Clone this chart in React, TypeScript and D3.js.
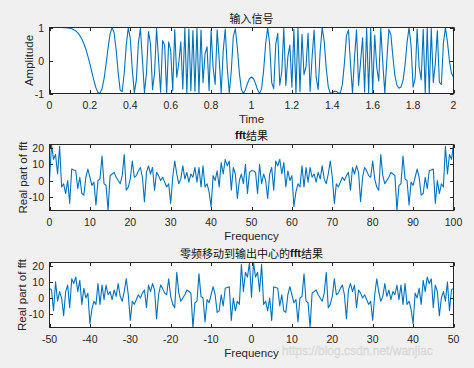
import React from "react";
import * as d3 from "d3";

// Input signal samples (t = 0 : 0.01 : 2)
const timeSignal: number[] = [
  1, 1, 1, 1, 1, 1, 0.999, 0.997, 0.994, 0.988,
  0.978, 0.961, 0.935, 0.896, 0.839, 0.76, 0.654, 0.516, 0.342, 0.134,
  -0.105, -0.36, -0.613, -0.829, -0.97, -0.991, -0.858, -0.556, -0.115, 0.385,
  0.809, 0.999, 0.837, 0.322, -0.369, -0.903, -0.94, -0.377, 0.477, 0.99,
  0.669, -0.293, -0.982, -0.587, 0.533, 0.972, 0.034, -0.97, -0.389, 0.881,
  0.5, -0.881, -0.386, 0.972, 0.008, -0.959, 0.607, 0.464, -1.0, 0.567,
  0.309, -0.915, 0.939, -0.508, -0.074, 0.566, -0.866, 0.987, -0.993, 0.952,
  -0.914, 0.906, -0.933, 0.979, -0.999, 0.924, -0.673, 0.201, 0.417, -0.917,
  0.914, -0.22, -0.724, 0.931, 0.043, -0.983, 0.298, 0.951, -0.213, -1.0,
  -0.309, 0.733, 0.963, 0.379, -0.391, -0.879, -0.998, -0.884, -0.698, -0.553,
  -0.5, -0.553, -0.701, -0.889, -1.0, -0.853, -0.306, 0.508, 0.998, 0.495,
  -0.669, -0.852, 0.486, 0.821, -0.749, -0.334, 0.982, -0.759, 0.111, 0.471,
  -0.809, 0.947, -0.984, 0.984, -0.943, 0.793, -0.431, -0.184, 0.827, -0.938,
  0.105, 0.921, -0.506, -0.88, 0.288, 0.997, 0.58, -0.238, -0.8, -0.992,
  -0.978, -0.931, -0.937, -0.986, -0.979, -0.725, -0.076, 0.746, 0.93, -0.094,
  -1.0, 0.094, 0.929, -0.753, -0.049, 0.688, -0.956, 1.0, -0.99, 0.998,
  -0.978, 0.773, -0.202, -0.629, 0.981, -0.078, -0.989, 0.008, 0.942, 0.785,
  0.105, -0.461, -0.75, -0.842, -0.806, -0.609, -0.152, 0.542, 0.999, 0.437,
  -0.809, -0.546, 0.955, -0.205, -0.588, 0.943, -1.0, 0.986, -0.998, 0.965,
  -0.669, -0.078, 0.904, -0.66, -0.727, 0.522, 0.995, 0.566, -0.023, -0.388,
  -0.5,
];
const timeStep = 0.01;

// Real part of the FFT (frequency 0 : 0.5 : 100)
const fftReal: number[] = [
  0.4, 22.1, 13, 16, 4, 21, -4, -2, -8, 0,
  -14, 7, 6.5, 6, -5, 2, -8, -9, 2, 7,
  2, -3, -1, -15, 0, 1, 15, -2, -3, -18.4,
  3, 4, 5, 2, 0, -2, 3, 16, -6, -4,
  1, 12, 2, 3, 6, 8, 2, -13, 5, 9,
  4, 8, -6, 5, 3, 0, 2, -1, -4, -2,
  -14, 2, 12, 4, -2, 1, 9, 1, 5, -1,
  4, 2, 8, -1, 8, -4, 9, -4, -2, -7,
  -16, 3, 0, 6, -4, 11, 4, 13, 9, 12,
  -6, 8, 4, -11, 0, 4, -2, 10, -8, 5,
  6,
  6, 5, -8, 10, -2, 4, 0, -11, 4, 8,
  -6, 12, 9, 13, 4, 11, -4, 6, 0, 3,
  -16, -7, -2, -4, 9, -4, 8, -1, 8, 2,
  4, -1, 5, 1, 9, 1, -2, 4, 12, 2,
  -14, -2, -4, -1, 2, 0, 3, 5, -6, 8,
  4, 9, 5, -13, 2, 8, 6, 3, 2, 12,
  1, -4, -6, 16, 3, -2, 0, 2, 5, 4,
  3, -18.4, -3, -2, 15, 1, 0, -15, -1, -3,
  2, 7, 2, -9, -8, 2, -5, 6, 6.5, 7,
  -14, 0, -8, -2, -4, 21, 4, 16, 13, 22.1,
];
const freqStep = 0.5;
const shiftStart = -50;

const timeTicks = [0, 0.2, 0.4, 0.6, 0.8, 1, 1.2, 1.4, 1.6, 1.8, 2];
const ampTicks = [-1, 0, 1];
const freqTicks = [0, 10, 20, 30, 40, 50, 60, 70, 80, 90, 100];
const shiftTicks = [-50, -40, -30, -20, -10, 0, 10, 20, 30, 40, 50];
const fftTicks = [-10, 0, 10, 20];

const W = 474;
const H = 368;
const latin = "'Liberation Sans', Arial, Helvetica, sans-serif";
const cjk = "'Noto Sans CJK SC', 'Noto Sans CJK JP', sans-serif";
const axisColor = "#262626";
const lineColor = "#0072BD";

type Seg = { text: string; bold?: boolean };

type PanelProps = {
  id: string;
  box: { l: number; r: number; t: number; b: number };
  xDomain: [number, number];
  yDomain: [number, number];
  xs: number[];
  ys: number[];
  xTicks: number[];
  yTicks: number[];
  title: Seg[];
  xLabel: string;
  yLabel: string;
  yLabelX: number;
};

function Panel(p: PanelProps) {
  const { box } = p;
  const x = d3.scaleLinear().domain(p.xDomain).range([box.l, box.r]);
  const y = d3.scaleLinear().domain(p.yDomain).range([box.b, box.t]);
  const line = d3
    .line<number>()
    .x((_, i) => x(p.xs[i]))
    .y((d) => y(d));
  const tl = 3.5;
  const cx = (box.l + box.r) / 2;
  const cy = (box.t + box.b) / 2;
  const fmt = (v: number) => String(+v.toFixed(2));
  return (
    <g>
      <defs>
        <clipPath id={p.id}>
          <rect x={box.l} y={box.t} width={box.r - box.l} height={box.b - box.t} />
        </clipPath>
      </defs>
      <rect x={box.l} y={box.t} width={box.r - box.l} height={box.b - box.t} fill="#ffffff" />
      <path
        d={line(p.ys) || ""}
        fill="none"
        stroke={lineColor}
        strokeWidth={1.1}
        strokeLinejoin="round"
        clipPath={`url(#${p.id})`}
      />
      {p.xTicks.map((v) => {
        const px = Math.round(x(v)) + 0.5;
        return (
          <g key={"x" + v}>
            <line x1={px} x2={px} y1={box.b} y2={box.b - tl} stroke={axisColor} strokeWidth={1} />
            <line x1={px} x2={px} y1={box.t} y2={box.t + tl} stroke={axisColor} strokeWidth={1} />
            <text
              x={x(v)}
              y={box.b + 11}
              textAnchor="middle"
              dominantBaseline="central"
              fontFamily={latin}
              fontSize={10.5}
              fill={axisColor}
            >
              {fmt(v)}
            </text>
          </g>
        );
      })}
      {p.yTicks.map((v) => {
        const py = Math.round(y(v)) + 0.5;
        return (
          <g key={"y" + v}>
            <line x1={box.l} x2={box.l + tl} y1={py} y2={py} stroke={axisColor} strokeWidth={1} />
            <line x1={box.r} x2={box.r - tl} y1={py} y2={py} stroke={axisColor} strokeWidth={1} />
            <text
              x={box.l - 5.5}
              y={y(v)}
              textAnchor="end"
              dominantBaseline="central"
              fontFamily={latin}
              fontSize={10.5}
              fill={axisColor}
            >
              {fmt(v)}
            </text>
          </g>
        );
      })}
      <rect
        x={box.l}
        y={box.t}
        width={box.r - box.l}
        height={box.b - box.t}
        fill="none"
        stroke={axisColor}
        strokeWidth={1}
      />
      <text
        x={cx}
        y={box.t - 9.5}
        textAnchor="middle"
        dominantBaseline="central"
        fontSize={11}
        fill="#111"
      >
        {p.title.map((s, i) => (
          <tspan key={i} fontFamily={s.bold ? latin : cjk} fontWeight={s.bold ? "bold" : "normal"}>
            {s.text}
          </tspan>
        ))}
      </text>
      <text
        x={cx}
        y={box.b + 25}
        textAnchor="middle"
        dominantBaseline="central"
        fontFamily={latin}
        fontSize={11.5}
        fill={axisColor}
      >
        {p.xLabel}
      </text>
      <text
        transform={`translate(${p.yLabelX},${cy}) rotate(-90)`}
        textAnchor="middle"
        dominantBaseline="central"
        fontFamily={latin}
        fontSize={11.5}
        fill={axisColor}
      >
        {p.yLabel}
      </text>
    </g>
  );
}

export default function App() {
  const times = timeSignal.map((_, i) => i * timeStep);
  const freqs = fftReal.map((_, i) => i * freqStep);
  const half = Math.floor(fftReal.length / 2);
  const shifted = [...fftReal.slice(half + 1), ...fftReal.slice(0, half + 1)];
  const shiftFreqs = shifted.map((_, i) => shiftStart + i * freqStep);
  const ext = d3.extent(fftReal) as [number, number];

  return (
    <svg
      width={W}
      height={H}
      style={{ position: "absolute", left: 0, top: 0, display: "block" }}
    >
      <rect x={0} y={0} width={W} height={H} fill="#f0f0f0" />
      <Panel
        id="c1"
        box={{ l: 49.5, r: 453.5, t: 27.5, b: 93.5 }}
        xDomain={[0, 2]}
        yDomain={[-1, 1]}
        xs={times}
        ys={timeSignal}
        xTicks={timeTicks}
        yTicks={ampTicks}
        title={[{ text: "输入信号" }]}
        xLabel="Time"
        yLabel="Amplitude"
        yLabelX={29}
      />
      <Panel
        id="c2"
        box={{ l: 49.5, r: 453.5, t: 144.5, b: 210.5 }}
        xDomain={[0, 100]}
        yDomain={ext}
        xs={freqs}
        ys={fftReal}
        xTicks={freqTicks}
        yTicks={fftTicks}
        title={[{ text: "fft", bold: true }, { text: "结果" }]}
        xLabel="Frequency"
        yLabel="Real part of fft"
        yLabelX={22.5}
      />
      <Panel
        id="c3"
        box={{ l: 49.5, r: 453.5, t: 262.5, b: 327.5 }}
        xDomain={[-50, 50]}
        yDomain={ext}
        xs={shiftFreqs}
        ys={shifted}
        xTicks={shiftTicks}
        yTicks={fftTicks}
        title={[{ text: "零频移动到输出中心的" }, { text: "fft", bold: true }, { text: "结果" }]}
        xLabel="Frequency"
        yLabel="Real part of fft"
        yLabelX={22}
      />
      <text
        x={282}
        y={351}
        dominantBaseline="central"
        fontFamily={latin}
        fontSize={12}
        fill="#e2e2e2"
        stroke="#cfcfcf"
        strokeWidth={0.3}
      >
        https://blog.csdn.net/wanjiac
      </text>
    </svg>
  );
}
